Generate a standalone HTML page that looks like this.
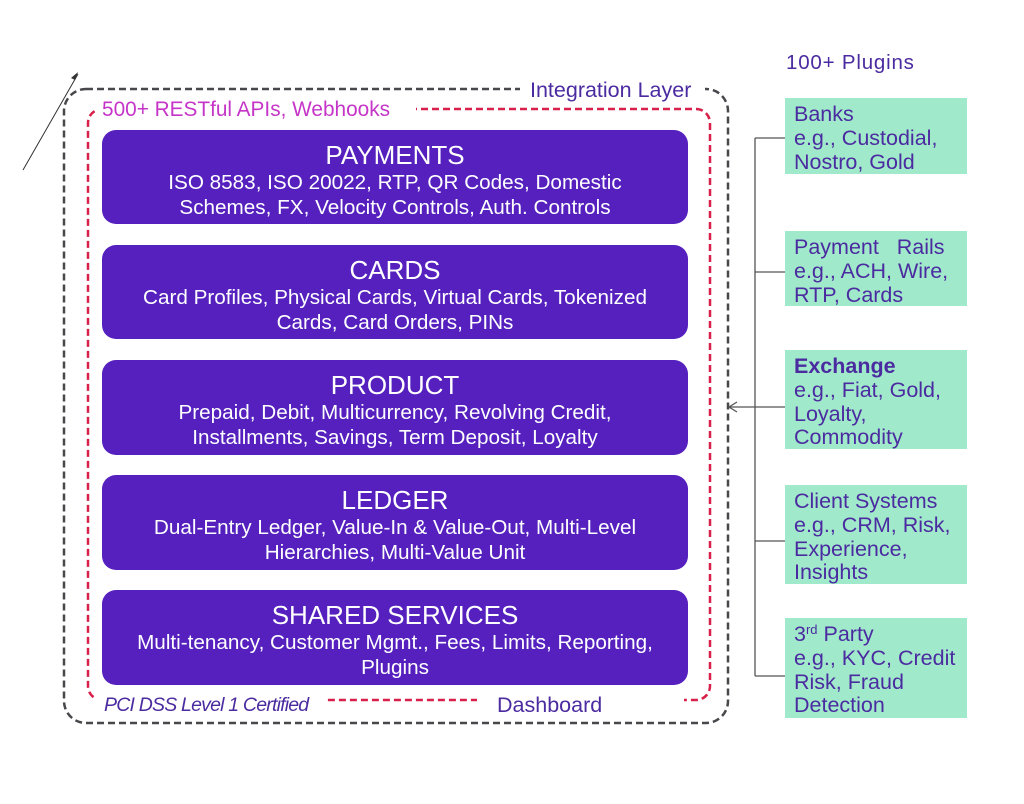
<!DOCTYPE html>
<html><head><meta charset="utf-8"><style>
html,body{margin:0;padding:0;background:#fff;}
svg text{font-family:"Liberation Sans",sans-serif;}
</style></head><body>
<svg width="1024" height="799" viewBox="0 0 1024 799" xmlns="http://www.w3.org/2000/svg">
<rect width="1024" height="799" fill="#fff"/>
<line x1="23" y1="170" x2="78" y2="74" stroke="#333" stroke-width="1"/>
<path d="M78,72 L71,78 L75,80 Z" fill="#333"/>
<rect x="64" y="89" width="664" height="634" rx="22" fill="none" stroke="#48484c" stroke-width="2.5" stroke-dasharray="7,4"/>
<rect x="520" y="76" width="185" height="26" fill="#fff"/>
<text x="530" y="97" font-size="21.5" fill="#4b2ba0">Integration Layer</text>
<rect x="88" y="109" width="622" height="591" rx="14" fill="none" stroke="#d8204a" stroke-width="2.5" stroke-dasharray="7,4"/>
<rect x="96" y="96" width="320" height="26" fill="#fff"/>
<text x="102" y="116" font-size="20.8" fill="#c535c8">500+ RESTful APIs, Webhooks</text>
<rect x="96" y="690" width="228" height="22" fill="#fff"/>
<text x="104" y="711" font-size="19.5" font-style="italic" fill="#4b2ba0" letter-spacing="-0.8">PCI DSS Level 1 Certified</text>
<rect x="477" y="690" width="207" height="22" fill="#fff"/>
<text x="497" y="712" font-size="21.5" fill="#4b2ba0">Dashboard</text>
<g fill="#5520be">
<rect x="102" y="130" width="586" height="94" rx="14"/>
<rect x="102" y="245" width="586" height="94" rx="14"/>
<rect x="102" y="360" width="586" height="95" rx="14"/>
<rect x="102" y="475" width="586" height="95" rx="14"/>
<rect x="102" y="590" width="586" height="95" rx="14"/>
</g>
<g fill="#fff" text-anchor="middle">
<text x="395" y="164" font-size="26">PAYMENTS</text>
<text x="395" y="189" font-size="20.7">ISO 8583, ISO 20022, RTP, QR Codes, Domestic</text>
<text x="395" y="214" font-size="20.7">Schemes, FX, Velocity Controls, Auth. Controls</text>
<text x="395" y="279" font-size="26">CARDS</text>
<text x="395" y="304" font-size="20.7">Card Profiles, Physical Cards, Virtual Cards, Tokenized</text>
<text x="395" y="329" font-size="20.7">Cards, Card Orders, PINs</text>
<text x="395" y="394" font-size="26">PRODUCT</text>
<text x="395" y="419" font-size="20.7">Prepaid, Debit, Multicurrency, Revolving Credit,</text>
<text x="395" y="444" font-size="20.7">Installments, Savings, Term Deposit, Loyalty</text>
<text x="395" y="509" font-size="26">LEDGER</text>
<text x="395" y="534" font-size="20.7">Dual-Entry Ledger, Value-In &amp; Value-Out, Multi-Level</text>
<text x="395" y="559" font-size="20.7">Hierarchies, Multi-Value Unit</text>
<text x="395" y="624" font-size="26">SHARED SERVICES</text>
<text x="395" y="649" font-size="20.7">Multi-tenancy, Customer Mgmt., Fees, Limits, Reporting,</text>
<text x="395" y="674" font-size="20.7">Plugins</text>
</g>
<g stroke="#555" stroke-width="1.3" fill="none">
<line x1="755" y1="138" x2="755" y2="676"/>
<line x1="755" y1="138" x2="785" y2="138"/>
<line x1="755" y1="272" x2="785" y2="272"/>
<line x1="729" y1="407" x2="785" y2="407"/>
<line x1="755" y1="541" x2="785" y2="541"/>
<line x1="755" y1="676" x2="785" y2="676"/>
<path d="M737,402 L729,407 L737,412"/>
</g>
<text x="786" y="69" font-size="20.5" fill="#4b2ba0" letter-spacing="0.8">100+ Plugins</text>
<g fill="#a1e9cb">
<rect x="785" y="98" width="182" height="76"/>
<rect x="785" y="231" width="182" height="75"/>
<rect x="785" y="350" width="182" height="99"/>
<rect x="785" y="485" width="182" height="99"/>
<rect x="785" y="618" width="182" height="100"/>
</g>
<g fill="#4b2ba0" font-size="21.5">
<text x="794" y="121">Banks</text>
<text x="794" y="145">e.g., Custodial,</text>
<text x="794" y="169">Nostro, Gold</text>
<text x="794" y="254">Payment&#160;&#160; Rails</text>
<text x="794" y="278">e.g., ACH, Wire,</text>
<text x="794" y="302">RTP, Cards</text>
<text x="794" y="373" font-weight="bold">Exchange</text>
<text x="794" y="397">e.g., Fiat, Gold,</text>
<text x="794" y="421">Loyalty,</text>
<text x="794" y="444">Commodity</text>
<text x="794" y="508">Client Systems</text>
<text x="794" y="532">e.g., CRM, Risk,</text>
<text x="794" y="556">Experience,</text>
<text x="794" y="579">Insights</text>
<text x="794" y="641">3<tspan font-size="13" dy="-7">rd</tspan><tspan dy="7"> Party</tspan></text>
<text x="794" y="665">e.g., KYC, Credit</text>
<text x="794" y="689">Risk, Fraud</text>
<text x="794" y="712">Detection</text>
</g>
</svg>
</body></html>
